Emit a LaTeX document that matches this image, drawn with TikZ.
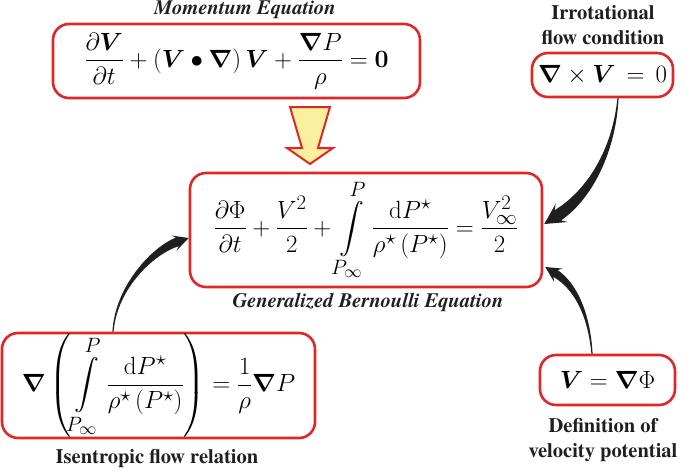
\documentclass[tikz,border=0pt]{standalone}
\usepackage{amsmath,bm}
\usepackage[no-math]{fontspec}
\newfontfamily\lblfont{texgyretermes}[Extension=.otf, UprightFont=*-regular,
  BoldFont=*-bold, ItalicFont=*-italic, BoldItalicFont=*-bolditalic]
\usetikzlibrary{arrows.meta,calc}
\definecolor{boxred}{RGB}{222,40,40}
\definecolor{arrowyellow}{RGB}{250,240,160}
% tapered curved arrow: #1 start, #2 ctrl1, #3 ctrl2, #4 tip,
% #5/#6/#7 half widths at ctrl1/ctrl2/head base, #8 head length, #9 head half width
\newcommand\taperarrow[9]{%
  \coordinate (tS) at #1; \coordinate (tC1) at #2; \coordinate (tC2) at #3; \coordinate (tE) at #4;
  \coordinate (tB) at ($(tE)!#8!(tC2)$);
  \coordinate (tK) at ($(tE)!1.3*#8!(tC2)$);
  \fill[black!88] ($(tS)!0.6pt!90:(tC1)$) .. controls ($(tC1)!#5!90:(tC2)$) and ($(tC2)!#6!90:(tB)$) .. ($(tB)!#7!90:(tE)$)
    -- ($(tK)!#9!90:(tE)$) -- (tE) -- ($(tK)!#9!-90:(tE)$) -- ($(tB)!#7!-90:(tE)$)
    .. controls ($(tC2)!#6!-90:(tB)$) and ($(tC1)!#5!-90:(tC2)$) .. ($(tS)!0.6pt!-90:(tC1)$) -- cycle;}
\begin{document}
\begin{tikzpicture}[x=1pt,y=-1pt,
  eqbox/.style={draw=boxred, line width=2.6pt, rounded corners=16pt, inner sep=0pt,
    font=\fontsize{24.88}{30}\selectfont},
  lbl/.style={font=\lblfont\bfseries\fontsize{20.5}{24.5}\selectfont, align=center, inner sep=0pt, text=black!88},
  ilbl/.style={font=\lblfont\bfseries\itshape\fontsize{20.5}{24}\selectfont, inner sep=0pt, text=black!88}]
\useasboundingbox (0,0) rectangle (685,474);

% boxes
\node[eqbox, minimum width=367pt, minimum height=74pt] (mom) at (236.5,61)
  {$\displaystyle \frac{\partial\bm{V}}{\partial t}+(\bm{V}\bullet\bm{\nabla})\,\bm{V}+\frac{\bm{\nabla}P}{\rho}=\bm{0}$};
\node[eqbox, minimum width=352pt, minimum height=114pt] (bern) at (366,230)
  {$\displaystyle \frac{\partial\Phi}{\partial t}+\frac{V^2}{2}+\int\limits_{P_\infty}^{P}\frac{\mathrm{d}P^\star}{\rho^\star\left(P^\star\right)}=\frac{V_\infty^2}{2}$};
\node[eqbox, minimum width=141pt, minimum height=44pt] (irr) at (602.5,75)
  {$\bm{\nabla}\times\bm{V}\,=\,0$};
\node[eqbox, minimum width=135pt, minimum height=50pt] (vel) at (607.5,380)
  {$\bm{V}=\bm{\nabla}\Phi$};
\node[eqbox, minimum width=313pt, minimum height=105pt] (isen) at (158.5,385.5)
  {$\displaystyle \bm{\nabla}\left(\int\limits_{P_\infty}^{P}\frac{\mathrm{d}P^\star}{\rho^\star\left(P^\star\right)}\right)=\frac{1}{\rho}\bm{\nabla}P$};

% labels
\node[ilbl] (lmom) at (245,10) {Momentum Equation};
\node[ilbl] (lbern) at (368,302) {Generalized Bernoulli Equation};
\node[lbl] (lirr) at (603,25) {Irrotational\\flow condition};
\node[lbl] (lvel) at (603,440) {Definition of\\velocity potential};
\node[lbl] (lisen) at (157,459) {Isentropic flow relation};

% yellow block arrow
\filldraw[draw=boxred, fill=arrowyellow, line width=2pt, line join=miter]
  (290,107) -- (330,107) -- (318,148) -- (333,148) -- (310,164) -- (287,148) -- (302,148) -- cycle;

% connectors
\coordinate (a1s) at ([xshift=15.5pt]irr.south);
\coordinate (a1e) at ([xshift=1pt,yshift=6pt]bern.east);
\taperarrow{(a1s)}{($(a1s)+(-4,53)$)}{($(a1e)+(45,-29)$)}{(a1e)}{2pt}{5pt}{6pt}{16pt}{11pt}

\coordinate (a2s) at ([xshift=-15.5pt]vel.north);
\coordinate (a2e) at ([xshift=2pt,yshift=-37pt]bern.east);
\taperarrow{(a2s)}{($(a2s)+(-3,-40)$)}{($(a2e)+(30,19)$)}{(a2e)}{1.4pt}{3.2pt}{4pt}{12pt}{8pt}

\coordinate (a3s) at ([xshift=-45.5pt]isen.north);
\coordinate (a3e) at ([yshift=-8pt]bern.west);
\taperarrow{(a3s)}{($(a3s)+(3,-45)$)}{($(a3e)+(-35,12)$)}{(a3e)}{1.5pt}{3.6pt}{4.5pt}{12pt}{8pt}
\end{tikzpicture}
\end{document}
